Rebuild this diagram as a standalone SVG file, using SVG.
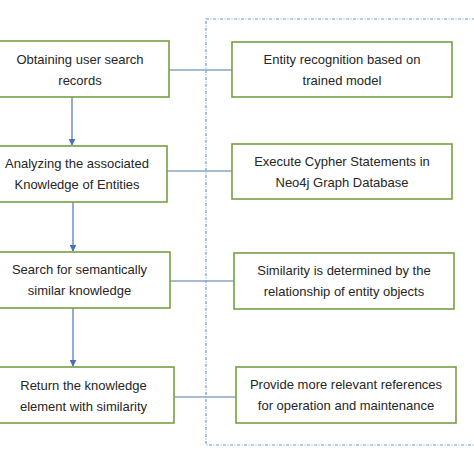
<svg xmlns="http://www.w3.org/2000/svg" width="474" height="474" viewBox="0 0 474 474">
<defs>
<style>
.box{fill:#fff;stroke:#76a043;stroke-width:1.6}
.t{font-family:"Liberation Sans",Arial,sans-serif;font-size:13px;fill:#262626;text-anchor:middle}
.c{stroke:#8aa6c4;stroke-width:1.3;fill:none}
.v{stroke:#5a7fc0;stroke-width:1.3;fill:none}
</style>
<marker id="ah" viewBox="0 0 10 10" refX="9" refY="5" markerWidth="7" markerHeight="7" markerUnits="userSpaceOnUse" orient="auto">
<path d="M0,0 L10,5 L0,10 z" fill="#4a6fbf"/>
</marker>
</defs>
<rect width="474" height="474" fill="#fff"/>
<rect x="206" y="19" width="280" height="426" fill="none" stroke="#6c9bcc" stroke-width="1.2" stroke-dasharray="3,1.5,1,1.5"/>
<g id="connectors">
<line class="c" x1="169" y1="70" x2="232" y2="70"/>
<line class="c" x1="167" y1="171" x2="232" y2="171"/>
<line class="c" x1="170" y1="281" x2="234" y2="281"/>
<line class="c" x1="174" y1="397" x2="236" y2="397"/>
<line class="v" x1="72" y1="97" x2="72" y2="145" marker-end="url(#ah)"/>
<line class="v" x1="73" y1="202" x2="73" y2="251" marker-end="url(#ah)"/>
<line class="v" x1="73" y1="308" x2="73" y2="366" marker-end="url(#ah)"/>
</g>
<g id="n1"><rect class="box" x="-10" y="41" width="179" height="56"/><text class="t" x="80" y="64">Obtaining user search</text><text class="t" x="80" y="85">records</text></g>
<g id="n2"><rect class="box" x="-10" y="146" width="177" height="56"/><text class="t" x="77" y="168">Analyzing the associated</text><text class="t" x="77" y="189">Knowledge of Entities</text></g>
<g id="n3"><rect class="box" x="-10" y="252" width="180" height="56"/><text class="t" x="79.5" y="274">Search for semantically</text><text class="t" x="79.5" y="295">similar knowledge</text></g>
<g id="n4"><rect class="box" x="-10" y="367" width="184" height="56"/><text class="t" x="83.5" y="390">Return the knowledge</text><text class="t" x="83.5" y="411">element with similarity</text></g>
<g id="r1"><rect class="box" x="232" y="42" width="220" height="55"/><text class="t" x="342" y="64">Entity recognition based on</text><text class="t" x="342" y="85">trained model</text></g>
<g id="r2"><rect class="box" x="232" y="144" width="220" height="55"/><text class="t" x="342" y="166">Execute Cypher Statements in</text><text class="t" x="342" y="187">Neo4j Graph Database</text></g>
<g id="r3"><rect class="box" x="234" y="253" width="220" height="56"/><text class="t" x="344" y="275">Similarity is determined by the</text><text class="t" x="344" y="296">relationship of entity objects</text></g>
<g id="r4"><rect class="box" x="236" y="367" width="220" height="56"/><text class="t" x="346" y="389">Provide more relevant references</text><text class="t" x="346" y="410">for operation and maintenance</text></g>
</svg>
